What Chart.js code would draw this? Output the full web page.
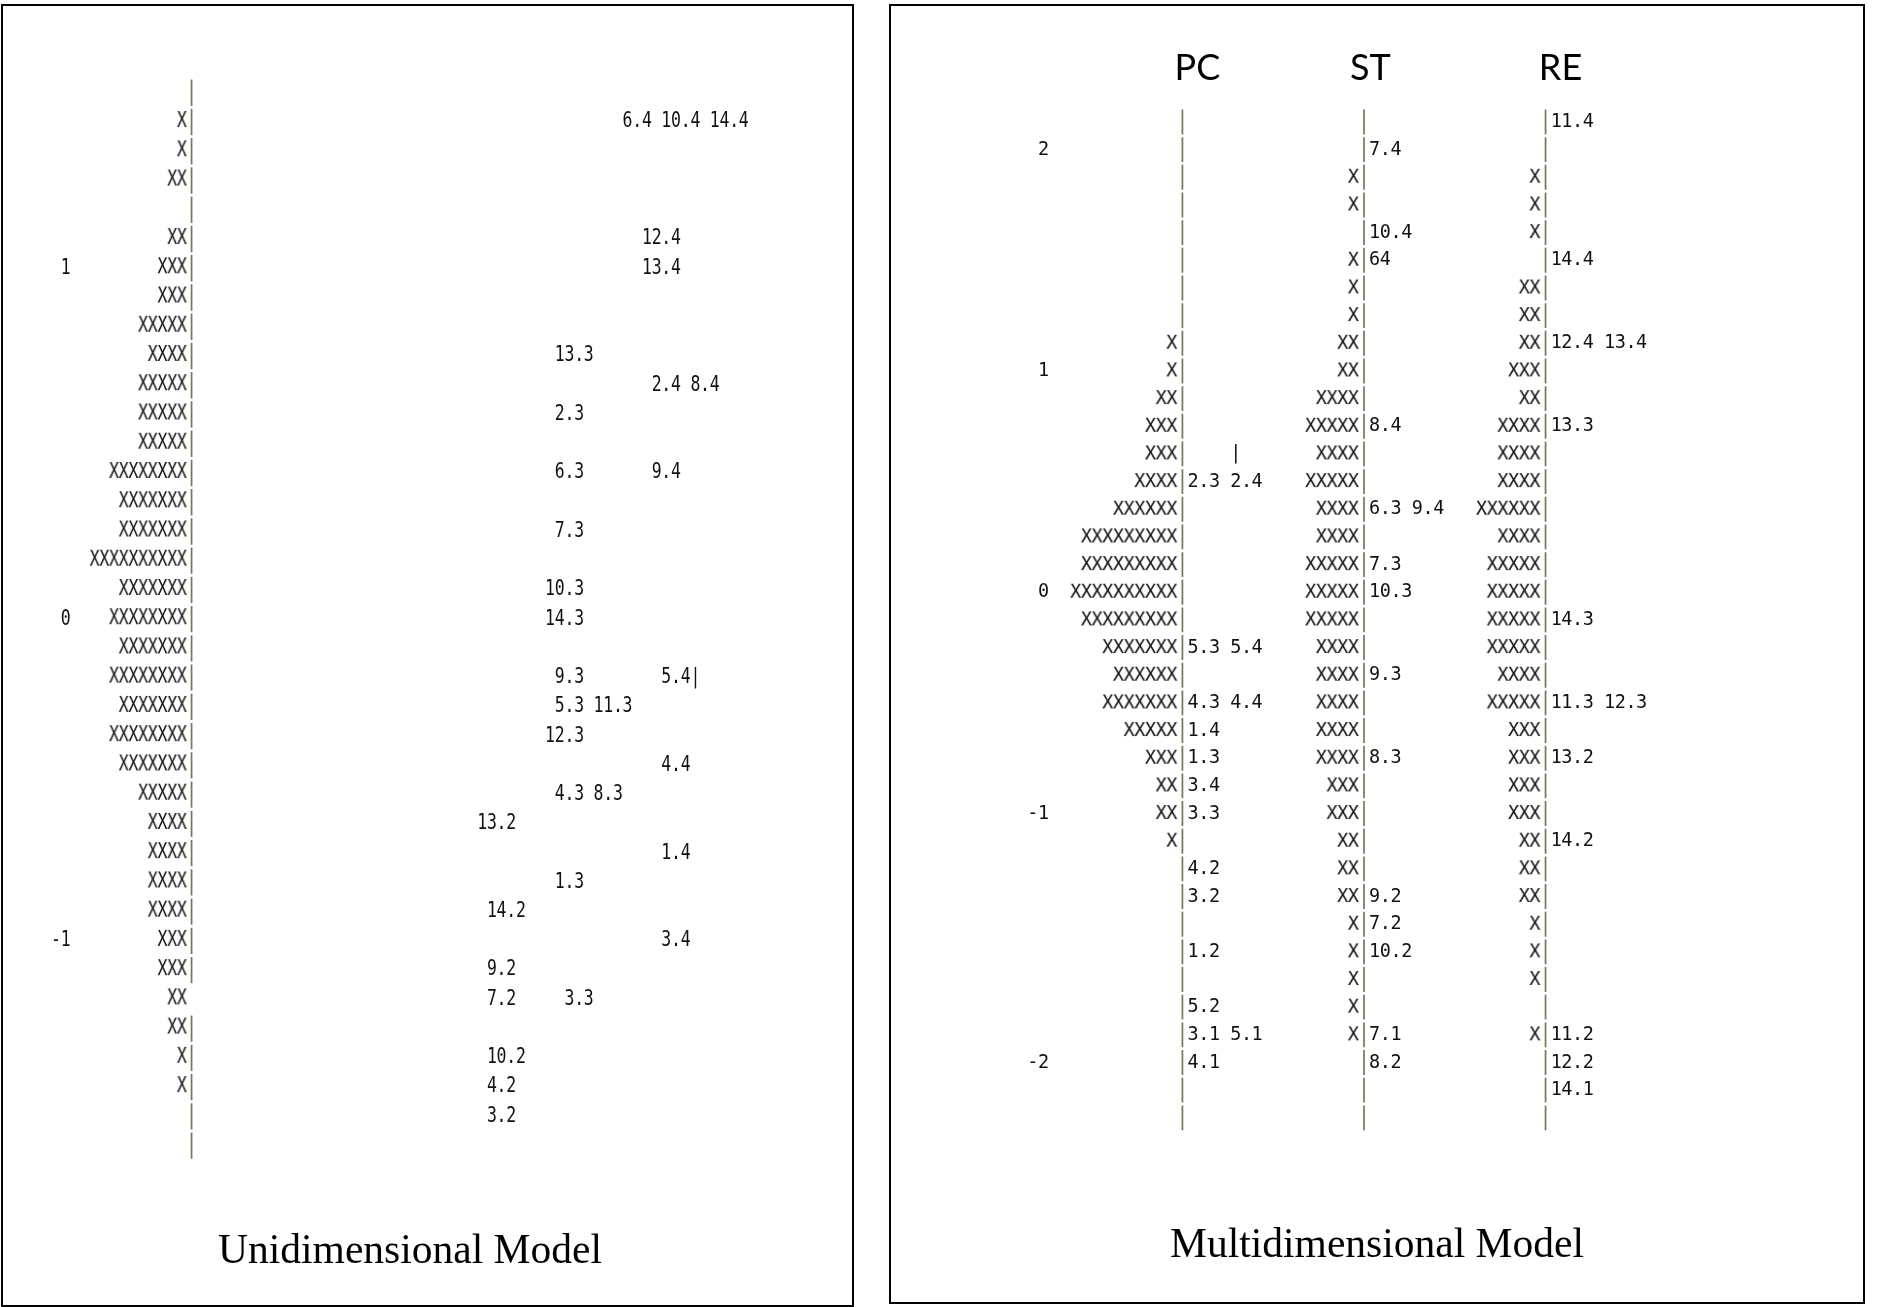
<!DOCTYPE html>
<html>
<head>
<meta charset="utf-8">
<script src="https://cdn.jsdelivr.net/npm/chart.js@4.4.1/dist/chart.umd.min.js"></script>
<style>
html,body{margin:0;padding:0;background:#fff;width:1888px;height:1307px;overflow:hidden;}
.panel{position:absolute;box-sizing:border-box;border:2px solid #000;background:#fff;}
.panel > div{position:absolute;left:0;top:0;right:0;bottom:0;}
canvas{display:block;}
</style>
</head>
<body>
<div class="panel" style="left:1px;top:4px;width:853px;height:1303px;"><div><canvas id="c1"></canvas></div></div>
<div class="panel" style="left:889px;top:4px;width:976px;height:1300px;"><div><canvas id="c2"></canvas></div></div>
<script>
// ---------------- DATA ----------------
// Unidimensional model (one row per printed line of the Wright map, top to bottom)
const uniTitle = 'Unidimensional Model';
const uniTickRows = [6, 18, 29];
const uniTickLabels = ['1', '0', '-1'];
const uniPersons = [0,1,1,2,0,2,3,3,5,4,5,5,5,8,7,7,10,7,8,7,8,7,8,7,5,4,4,4,4,3,3,2,2,1,1,0,0];
const uniBarGaps = [31];
const uniItems = [
  '',
  '               6.4 10.4 14.4',
  '',
  '',
  '',
  '                 12.4',
  '                 13.4',
  '',
  '',
  '        13.3',
  '                  2.4 8.4',
  '        2.3',
  '',
  '        6.3       9.4',
  '',
  '        7.3',
  '',
  '       10.3',
  '       14.3',
  '',
  '        9.3        5.4|',
  '        5.3 11.3',
  '       12.3',
  '                   4.4',
  '        4.3 8.3',
  '13.2',
  '                   1.4',
  '        1.3',
  ' 14.2',
  '                   3.4',
  ' 9.2',
  ' 7.2     3.3',
  '',
  ' 10.2',
  ' 4.2',
  ' 3.2',
  ''
];

// Multidimensional model
const multiTitle = 'Multidimensional Model';
const multiDims = ['PC', 'ST', 'RE'];
const multiTickRows = [1, 9, 17, 25, 34];
const multiTickLabels = ['2', '1', '0', '-1', '-2'];
const pcPersons = [0,0,0,0,0,0,0,0,1,1,2,3,3,4,6,9,9,10,9,7,6,7,5,3,2,2,1,0,0,0,0,0,0,0,0,0,0];
const stPersons = [0,0,1,1,0,1,1,1,2,2,4,5,4,5,4,4,5,5,5,4,4,4,4,4,3,3,2,2,2,1,1,1,1,1,0,0,0];
const rePersons = [0,0,1,1,1,0,2,2,2,3,2,4,4,4,6,4,5,5,5,5,4,5,3,3,3,3,2,2,2,1,1,1,0,1,0,0,0];
const pcItems = [
  '','','','','','','','','','','','',
  '    |',
  '2.3 2.4',
  '','','','','',
  '5.3 5.4',
  '',
  '4.3 4.4',
  '1.4',
  '1.3',
  '3.4',
  '3.3',
  '',
  '4.2',
  '3.2',
  '',
  '1.2',
  '',
  '5.2',
  '3.1 5.1',
  '4.1',
  '',
  ''
];
const stItems = [
  '',
  '7.4',
  '',
  '',
  '10.4',
  '64',
  '','','','','',
  '8.4',
  '','',
  '6.3 9.4',
  '',
  '7.3',
  '10.3',
  '','',
  '9.3',
  '','',
  '8.3',
  '','','','',
  '9.2',
  '7.2',
  '10.2',
  '','',
  '7.1',
  '8.2',
  '',
  ''
];
const reItems = [
  '11.4',
  '','','','',
  '14.4',
  '','',
  '12.4 13.4',
  '','',
  '13.3',
  '','','','','','',
  '14.3',
  '','',
  '11.3 12.3',
  '',
  '13.2',
  '','',
  '14.2',
  '','','','','','',
  '11.2',
  '12.2',
  '14.1',
  ''
];

// ---------------- LAYOUT / STYLE ----------------
const INK = '#111111';
const BAR_INK = '#7a745c';
const MONO = '"DejaVu Sans Mono", "Liberation Mono", monospace';

const uniLayout = {barX:183, row0:79.6, rowH:29.93, cw:10.04, box:{left:3, top:6, w:849, h:1299},
  fontPx:16.5, sy:1.25, tickEnd:-13, itemStart:30,
  title:{text:uniTitle, cx:407, cy:1246}};
const multiLayout = {barX:1176.6, row0:110.1, rowH:28.28, cw:11.0, box:{left:891, top:6, w:972, h:1296},
  fontPx:18.5, sy:1.05, tickEnd:-13, headerRow:-1.95,
  title:{text:multiTitle, cx:486, cy:1240}};
const dimCols = [0, 17, 34];
const headerShift = [1.4, 0.6, 1.4];

function glyphCanvas(ch, L) {
  const w = Math.ceil(L.cw) + 6, h = Math.ceil(L.rowH);
  const c = document.createElement('canvas');
  c.width = w; c.height = h;
  const g = c.getContext('2d');
  g.font = L.fontPx + 'px ' + MONO;
  g.fillStyle = INK;
  g.textAlign = 'center';
  g.textBaseline = 'middle';
  g.translate(w / 2, h / 2);
  g.scale(1, L.sy);
  g.fillText(ch, 0, 0);
  return c;
}

function personPoints(counts, col) {
  const pts = [];
  counts.forEach((n, r) => { for (let k = 1; k <= n; k++) pts.push({x: col - k, y: r}); });
  return pts;
}
function barPoints(nRows, col, gaps) {
  const pts = [];
  for (let r = 0; r < nRows; r++) if (!gaps.includes(r)) pts.push({x: col, y: r});
  return pts;
}

function drawText(ctx, chart, L, text, xStart, row) {
  const xs = chart.scales.x, ys = chart.scales.y;
  const py = ys.getPixelForValue(row);
  ctx.font = L.fontPx + 'px ' + MONO;
  ctx.fillStyle = INK;
  ctx.textAlign = 'center';
  ctx.textBaseline = 'middle';
  for (let i = 0; i < text.length; i++) {
    const ch = text[i];
    if (ch === ' ') continue;
    const px = xs.getPixelForValue(xStart + i);
    ctx.save();
    ctx.translate(px, py);
    ctx.scale(1, L.sy);
    ctx.fillText(ch, 0, 0);
    ctx.restore();
  }
}

function scaleRange(L) {
  return {
    x: {type:'linear', display:false, min:(L.box.left - L.barX) / L.cw, max:(L.box.left + L.box.w - L.barX) / L.cw},
    y: {type:'linear', display:false, reverse:true, min:(L.box.top - L.row0) / L.rowH, max:(L.box.top + L.box.h - L.row0) / L.rowH}
  };
}

function barDataset(data, L) {
  return {data, pointStyle:'line', pointRotation:90, pointRadius:L.rowH * 0.44,
    pointBorderColor:BAR_INK, pointBorderWidth:1.7, borderColor:BAR_INK, showLine:false};
}
function personDataset(data, L) {
  return {data, pointStyle:glyphCanvas('X', L), pointRadius:5, showLine:false};
}

const baseOpts = {
  responsive:true, maintainAspectRatio:false, animation:false, devicePixelRatio:1,
  events:[], layout:{padding:0},
  plugins:{legend:{display:false}, tooltip:{enabled:false}, title:{display:false}}
};

// ---------------- UNIDIMENSIONAL ----------------
const uniText = {
  id:'uniText',
  afterDatasetsDraw(chart) {
    const ctx = chart.ctx, L = uniLayout;
    uniTickRows.forEach((r, i) => {
      const s = uniTickLabels[i];
      drawText(ctx, chart, L, s, L.tickEnd - (s.length - 1), r);
    });
    uniItems.forEach((s, r) => { if (s) drawText(ctx, chart, L, s, L.itemStart, r); });
    ctx.save();
    ctx.font = '41.5px "Liberation Serif", "Times New Roman", serif';
    ctx.fillStyle = '#000';
    ctx.textAlign = 'center';
    ctx.textBaseline = 'middle';
    ctx.fillText(L.title.text, L.title.cx, L.title.cy);
    ctx.restore();
  }
};
new Chart(document.getElementById('c1'), {
  type:'scatter',
  data:{datasets:[
    barDataset(barPoints(uniPersons.length, 0, uniBarGaps), uniLayout),
    personDataset(personPoints(uniPersons, 0), uniLayout)
  ]},
  options:Object.assign({}, baseOpts, {scales:scaleRange(uniLayout)}),
  plugins:[uniText]
});

// ---------------- MULTIDIMENSIONAL ----------------
const multiPersons = [pcPersons, stPersons, rePersons];
const multiItems = [pcItems, stItems, reItems];
const multiText = {
  id:'multiText',
  afterDatasetsDraw(chart) {
    const ctx = chart.ctx, L = multiLayout;
    multiTickRows.forEach((r, i) => {
      const s = multiTickLabels[i];
      drawText(ctx, chart, L, s, L.tickEnd - (s.length - 1), r);
    });
    multiItems.forEach((items, d) => {
      items.forEach((s, r) => { if (s) drawText(ctx, chart, L, s, dimCols[d] + 1, r); });
    });
    const xs = chart.scales.x, ys = chart.scales.y;
    ctx.save();
    ctx.font = '36px Lato, "Open Sans", sans-serif';
    ctx.fillStyle = '#000';
    ctx.textAlign = 'center';
    ctx.textBaseline = 'middle';
    multiDims.forEach((name, d) => {
      ctx.fillText(name, xs.getPixelForValue(dimCols[d] + headerShift[d]), ys.getPixelForValue(L.headerRow));
    });
    ctx.font = '41.5px "Liberation Serif", "Times New Roman", serif';
    ctx.fillText(L.title.text, L.title.cx, L.title.cy);
    ctx.restore();
  }
};
const multiSets = [];
multiDims.forEach((name, d) => {
  multiSets.push(barDataset(barPoints(multiPersons[d].length, dimCols[d], []), multiLayout));
  multiSets.push(personDataset(personPoints(multiPersons[d], dimCols[d]), multiLayout));
});
new Chart(document.getElementById('c2'), {
  type:'scatter',
  data:{datasets:multiSets},
  options:Object.assign({}, baseOpts, {scales:scaleRange(multiLayout)}),
  plugins:[multiText]
});
</script>
</body>
</html>
